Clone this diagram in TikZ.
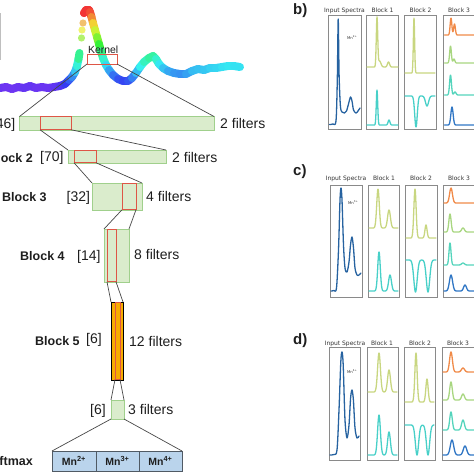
\documentclass[tikz,border=0pt]{standalone}
\usepackage{fontspec}
\setmainfont{Liberation Sans}
\newfontfamily\dvs{DejaVu Sans}
\definecolor{boxgreen}{RGB}{160,208,140}
\definecolor{fillgreen}{RGB}{218,236,204}
\definecolor{kred}{RGB}{222,86,70}
\definecolor{conngray}{RGB}{70,70,70}
\definecolor{txt}{RGB}{30,30,30}
\definecolor{pgray}{RGB}{138,138,138}
\definecolor{smfill}{RGB}{186,212,236}
\definecolor{smborder}{RGB}{80,90,100}
\definecolor{orfill}{RGB}{247,172,0}
\definecolor{inblue}{RGB}{38,98,160}
\definecolor{ylg}{RGB}{200,214,128}
\definecolor{tq}{RGB}{72,208,200}
\definecolor{org}{RGB}{240,138,72}
\definecolor{lgr}{RGB}{168,214,128}
\definecolor{cyg}{RGB}{84,212,188}
\definecolor{blu}{RGB}{48,118,196}
\begin{document}
\begin{tikzpicture}[x=1pt,y=-1pt,
  declare function={gs(\t,\c,\w)=exp(-min(((\t-\c)/\w)^2,25));},
  gbox/.style={draw=boxgreen, fill=fillgreen, line width=0.8pt, inner sep=0pt, outer sep=0pt},
  rbox/.style={draw=kred, line width=0.8pt, inner sep=0pt, outer sep=0pt},
  conn/.style={draw=conngray, line width=0.7pt},
  lab/.style={font=\fontsize{14}{16}\selectfont, text=txt, inner sep=0pt, anchor=base west},
  blab/.style={font=\bfseries\fontsize{12.5}{14}\selectfont, text=txt, inner sep=0pt, anchor=base west},
  pbox/.style={draw=pgray, line width=0.9pt},
  crv/.style={line width=1.3pt, line join=round, line cap=round},
  ttl/.style={font=\dvs\fontsize{6}{7}\selectfont, text=black!80, inner sep=0pt, anchor=base},
  mnl/.style={font=\dvs\fontsize{3.8}{4}\selectfont, text=black!80, inner sep=0pt, anchor=base west},
  plet/.style={font=\bfseries\fontsize{15}{17}\selectfont, text=txt, inner sep=0pt, anchor=base west},
  smc/.style={draw=smborder, fill=smfill, line width=0.8pt, minimum height=20pt, inner sep=0pt, outer sep=0pt, font=\bfseries\fontsize{10.5}{12}\selectfont, text=txt},
]
\useasboundingbox (0,0) rectangle (474,474);

% faint border of panel a
\draw[gray!50, line width=0.8pt] (0.6,13) -- (0.6,60);

% ---------- rainbow spectrum ----------
\foreach \x/\y [remember=\x as \lx (initially 0), remember=\y as \ly (initially 88)] in
 {0/88,6/87,12/89,18/87,24/88,30/86,36/88,42/87,48/88,54/87,60/86,65/84,69/80,72/77,75/72,77/66,78.5/59,79.5/53}{
  \pgfmathsetmacro\hh{max(0,min(258,((\y+\ly)/2-12)*3.4))}
  \definecolor{tc}{Hsb}{\hh,0.78,0.95}
  \draw[tc,line width=8pt,line cap=round] (\lx,\ly)--(\x,\y);
}
\foreach \x/\y in {81.5/38,82/30,83/23}{
  \pgfmathsetmacro\hh{max(0,min(258,(\y-12)*3.4))}
  \definecolor{tc}{Hsb}{\hh,0.55,0.95}
  \fill[tc] (\x,\y) circle (3.6pt);
}
\foreach \x/\y [remember=\x as \lx (initially 84), remember=\y as \ly (initially 13)] in
 {84/13,86/10,89/10,90/12,91.5/17,93/23,95/30,97/37,99/44,101/51,103/58,106/65,109/70,113/75,118/79,123/81,128/81,132/78,136/73,140/67,144/62,149/58,153/56,156/59,159/64,163/68,168/71,174/73,180/74,186/74,192/71,198/69,204/70,210/68,216/68,222/67,228/66,234/66,240/67}{
  \pgfmathsetmacro\hh{max(0,min(258,((\y+\ly)/2-12)*3.4))}
  \definecolor{tc}{Hsb}{\hh,0.78,0.95}
  \draw[tc,line width=8pt,line cap=round] (\lx,\ly)--(\x,\y);
}

% ---------- CNN blocks ----------
\node[rbox, minimum width=30pt, minimum height=10pt] (k) at (102,59) {};
\node[font=\fontsize{10.4}{12}\selectfont, text=txt, inner sep=0pt, anchor=base west] (kl) at (88,53) {Kernel};

\node[gbox, minimum width=194.5pt, minimum height=13.5pt] (b1) at (116.75,123.25) {};
\node[gbox, minimum width=98pt, minimum height=13pt] (b2) at (117,156.5) {};
\node[gbox, minimum width=50pt, minimum height=27pt] (b3) at (117,196.5) {};
\node[gbox, minimum width=25pt, minimum height=53pt] (b4) at (116.5,255.5) {};
\node[draw=black, fill=orfill, line width=0.9pt, inner sep=0pt, outer sep=0pt, minimum width=12pt, minimum height=78pt] (b5) at (117,341) {};
\node[gbox, minimum width=13pt, minimum height=19pt] (b6) at (117.5,409.5) {};

\node[rbox, minimum width=31pt, minimum height=13pt] (r1) at (55.5,123.25) {};
\node[rbox, minimum width=22pt, minimum height=12.5pt] (r2) at (85,156.5) {};
\node[rbox, minimum width=14pt, minimum height=26.5pt] (r3) at (129,196.5) {};
\node[rbox, minimum width=9pt, minimum height=52.5pt] (r4) at (111.5,255.5) {};
\node[rbox, minimum width=5pt, minimum height=77pt] (r5) at (117.5,341) {};

\node[smc, minimum width=44pt] (sm1) at (74,461) {Mn\textsuperscript{2+}};
\node[smc, minimum width=43pt] (sm2) at (117.5,461) {Mn\textsuperscript{3+}};
\node[smc, minimum width=43pt] (sm3) at (160.5,461) {Mn\textsuperscript{4+}};

\draw[conn] (k.south west) -- (b1.north west);
\draw[conn] (k.south east) -- (b1.north east);
\draw[conn] (r1.south west) -- (b2.north west);
\draw[conn] (r1.south east) -- (b2.north east);
\draw[conn] (r2.south west) -- (b3.north west);
\draw[conn] (r2.south east) -- (b3.north east);
\draw[conn] (r3.south west) -- (b4.north west);
\draw[conn] (r3.south east) -- (b4.north east);
\draw[conn] (r4.south west) -- (b5.north west);
\draw[conn] (r4.south east) -- (b5.north east);
\draw[conn] (r5.south west) -- (b6.north west);
\draw[conn] (r5.south east) -- (b6.north east);
\draw[conn] (b6.south west) -- (sm1.north west);
\draw[conn] (b6.south east) -- (sm3.north east);

% labels
\node[lab, anchor=base east] (l46) at (15.5,128) {[46]};
\node[lab] (f1) at (220,128.5) {2 filters};
\node[blab, anchor=base east] (bl2) at (33,162) {Block 2};
\node[lab] (l70) at (40,161.5) {[70]};
\node[lab] (f2) at (172,162) {2 filters};
\node[blab] (bl3) at (2,201.5) {Block 3};
\node[lab] (l32) at (66.5,201) {[32]};
\node[lab] (f3) at (146,201) {4 filters};
\node[blab] (bl4) at (20,260.5) {Block 4};
\node[lab] (l14) at (77,260) {[14]};
\node[lab] (f4) at (134,259.5) {8 filters};
\node[blab] (bl5) at (35,345.5) {Block 5};
\node[lab] (l6a) at (86,343.5) {[6]};
\node[lab] (f5) at (129,346) {12 filters};
\node[lab] (l6b) at (90,414.5) {[6]};
\node[lab] (f6) at (128,414.5) {3 filters};
\node[blab, anchor=base east] (smx) at (33,465.5) {Softmax};

% ---------- right panels ----------
\node[plet] (pb) at (293,14) {b)};
\node[plet] (pc) at (293,175) {c)};
\node[plet] (pd) at (293,344) {d)};

% panel b
\draw[pbox] (328,15) rectangle (361,129.5);
\draw[pbox] (366,15) rectangle (398.5,129.5);
\draw[pbox] (404,15) rectangle (436,129.5);
\draw[pbox] (443.5,15) rectangle (482,129.5);
\node[ttl] (tb0) at (344.5,12) {Input Spectra};
\node[ttl] (tb1) at (382.5,12) {Block 1};
\node[ttl] (tb2) at (420.5,12) {Block 2};
\node[ttl] (tb3) at (459,12) {Block 3};
\node[mnl] (mb) at (347,39.5) {Mn\textsuperscript{2+}};
\draw[crv,inblue] plot[smooth,tension=0.5] coordinates {(329.5,124.5) (333,124) (336,121) (337.3,80) (338.2,19) (339.1,75) (340.4,106) (342,112) (344.5,113) (346.5,111) (348.5,104) (350.5,97) (352,101) (353.5,110) (356,113) (358,111) (360,108)};
\draw[crv,ylg] plot[domain=367:398,samples=125] (\x,{67-49*gs(\x,377,1)-6*gs(\x,379.5,2)-5*gs(\x,388.5,1.5)});
\draw[crv,tq] plot[domain=367:398,samples=125] (\x,{125-35*gs(\x,377,1)-5*gs(\x,389,1.3)});
\draw[crv,ylg] plot[domain=405:435,samples=125] (\x,{73-55*gs(\x,414,0.9)});
\draw[crv,tq] plot[domain=405:435,samples=125] (\x,{96+31*gs(\x,416,1.8)+10*gs(\x,427,2.2)});
\draw[crv,org] plot[domain=444.5:476,samples=125] (\x,{35-17*gs(\x,451,1.2)-11*gs(\x,454.5,1.2)});
\draw[crv,lgr] plot[domain=444.5:476,samples=125] (\x,{63-17*gs(\x,450.5,1.2)-4*gs(\x,454,1.2)});
\draw[crv,cyg] plot[domain=444.5:476,samples=125] (\x,{95-20*gs(\x,450.5,1.3)-3*gs(\x,455,1.5)});
\draw[crv,blu] plot[domain=444.5:476,samples=125] (\x,{125-18*gs(\x,452,1.6)});

% panel c
\draw[pbox] (330,185) rectangle (362,297);
\draw[pbox] (368,185) rectangle (399,297);
\draw[pbox] (405,185) rectangle (437,297);
\draw[pbox] (443,185) rectangle (482,297);
\node[ttl] (tc0) at (346,180) {Input Spectra};
\node[ttl] (tc1) at (384,180) {Block 1};
\node[ttl] (tc2) at (421,180) {Block 2};
\node[ttl] (tc3) at (459,180) {Block 3};
\node[mnl] (mc) at (348,204.5) {Mn\textsuperscript{3+}};
\draw[crv,inblue] plot[smooth,tension=0.5] coordinates {(331,291) (334,290.5) (336.5,288) (338.5,250) (340,200) (341,188) (342,200) (343.5,245) (345,268) (347,272) (349,262) (350.5,245) (352,237) (353.5,248) (355,268) (357,275) (359,275) (361,273)};
\draw[crv,ylg] plot[domain=369:398,samples=125] (\x,{228-39*gs(\x,378,1.8)-18*gs(\x,389,2)});
\draw[crv,tq] plot[domain=369:398,samples=125] (\x,{291-39*gs(\x,379,1.8)-16*gs(\x,390,2)});
\draw[crv,ylg] plot[domain=406:436,samples=125] (\x,{238-49*gs(\x,415,1.6)-13*gs(\x,426,1.5)});
\draw[crv,tq] plot[domain=406:436,samples=125] (\x,{260+32*gs(\x,415.5,2.4)+32*gs(\x,428,2.4)});
\draw[crv,org] plot[domain=444:476,samples=125] (\x,{203-15*gs(\x,451,2)});
\draw[crv,lgr] plot[domain=444:476,samples=125] (\x,{232-18*gs(\x,450,1.6)-4*gs(\x,463,2)});
\draw[crv,cyg] plot[domain=444:476,samples=125] (\x,{265-22*gs(\x,450,1.4)-2*gs(\x,463,2)});
\draw[crv,blu] plot[domain=444:476,samples=125] (\x,{291-16*gs(\x,451,2.2)-6*gs(\x,465,2)});

% panel d
\draw[pbox] (329,347) rectangle (360,460);
\draw[pbox] (367,347) rectangle (398,460);
\draw[pbox] (404,347) rectangle (435,460);
\draw[pbox] (442,347) rectangle (482,460);
\node[ttl] (td0) at (345,345) {Input Spectra};
\node[ttl] (td1) at (382,345) {Block 1};
\node[ttl] (td2) at (420,345) {Block 2};
\node[ttl] (td3) at (458,345) {Block 3};
\node[mnl] (md) at (347,373.5) {Mn\textsuperscript{4+}};
\draw[crv,inblue] plot[smooth,tension=0.5] coordinates {(330,455) (334,454.5) (337,450) (339,410) (340.8,362) (342,352) (343.2,365) (345,420) (347,438) (349,425) (350.6,398) (352,390) (353.4,400) (355,428) (357,438) (359,436)};
\draw[crv,ylg] plot[domain=368:397,samples=125] (\x,{392-39*gs(\x,379,2)-22*gs(\x,389,2)});
\draw[crv,tq] plot[domain=368:397,samples=125] (\x,{455-40*gs(\x,379,2)-23*gs(\x,389,2)});
\draw[crv,ylg] plot[domain=405:434,samples=125] (\x,{402-49*gs(\x,416,1.6)-23*gs(\x,427,1.6)});
\draw[crv,tq] plot[domain=405:434,samples=125] (\x,{425+30*gs(\x,417,2.3)+30*gs(\x,428,2.3)});
\draw[crv,org] plot[domain=443:476,samples=125] (\x,{372-20*gs(\x,451,2)-4*gs(\x,463,2.2)});
\draw[crv,lgr] plot[domain=443:476,samples=125] (\x,{400-18*gs(\x,451,1.8)-6*gs(\x,463,2)});
\draw[crv,cyg] plot[domain=443:476,samples=125] (\x,{430-18*gs(\x,451,1.8)-10*gs(\x,463,2)});
\draw[crv,blu] plot[domain=443:476,samples=125] (\x,{455-15*gs(\x,452,2.4)-9*gs(\x,465,2.4)});
\end{tikzpicture}
\end{document}
